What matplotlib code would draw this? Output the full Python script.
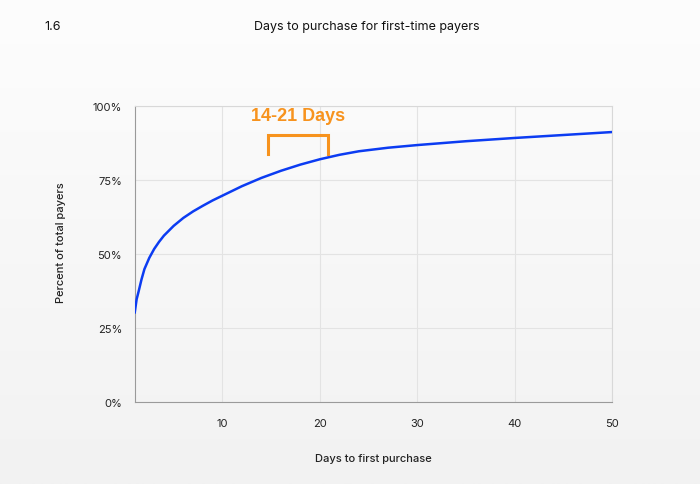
import numpy as np
import matplotlib
matplotlib.use('Agg')
import matplotlib.pyplot as plt

# values
days = [1, 1.2, 1.4, 1.7, 2, 2.5, 3, 3.5, 4, 5, 6, 7, 8, 9, 10, 12, 14, 16, 18, 20,
        22, 24, 27, 30, 35, 40, 45, 50]
pct_payers = [30.2, 34.8, 37.4, 41.5, 45.0, 48.8, 51.8, 54.2, 56.3, 59.6, 62.3, 64.5,
              66.4, 68.2, 69.8, 73.0, 75.8, 78.2, 80.3, 82.1, 83.6, 84.8, 86.0, 86.9,
              88.2, 89.3, 90.3, 91.3]
x_ticks = [10, 20, 30, 40, 50]
y_ticks = [0, 25, 50, 75, 100]
y_labels = ['0%', '25%', '50%', '75%', '100%']
bracket_days = [14.7, 20.8]

plt.rcParams['font.family'] = ['Inter', 'DejaVu Sans']

fig = plt.figure(figsize=(7, 4.85), dpi=100)

# soft vertical gradient behind everything
bg = fig.add_axes([0, 0, 1, 1], zorder=-10)
grad = np.linspace(0, 1, 256).reshape(-1, 1)
bg.imshow(grad, aspect='auto', cmap=matplotlib.colors.LinearSegmentedColormap.from_list(
    'bg', ['#fdfdfd', '#f2f2f2']), extent=[0, 1, 0, 1], origin='upper')
bg.axis('off')

ax = fig.add_axes([0.1924, 0.1685, 0.6823, 0.6103])
ax.patch.set_alpha(0)
ax.plot(days, pct_payers, color='#0C3CF2', lw=1.8, solid_capstyle='round', zorder=3)

ax.set_xlim(1, 50)
ax.set_ylim(0, 100)
ax.set_xticks(x_ticks)
ax.set_yticks(y_ticks)
ax.set_yticklabels(y_labels)
ax.tick_params(length=0, labelsize=8, colors='#222222')
ax.tick_params(axis='x', pad=11)
ax.tick_params(axis='y', pad=9)
ax.grid(True, color='#e3e3e3', lw=0.8)
for s in ['left', 'bottom']:
    ax.spines[s].set_color('#9a9a9a')
for s in ['top', 'right']:
    ax.spines[s].set_color('#d8d8d8')

# 14-21 day bracket
b0, b1 = bracket_days
ax.plot([b0, b0, b1, b1], [84, 90.2, 90.2, 84], color='#F7931E', lw=2.2,
        solid_joinstyle='miter', clip_on=False, zorder=4)
ax.text((b0 + b1) / 2, 97, '14-21 Days', color='#F7931E', fontsize=13,
        fontweight='bold', ha='center', va='center',
        family=['Liberation Sans', 'DejaVu Sans'])

fig.text(0.533, 0.053, 'Days to first purchase', ha='center', va='center',
         fontsize=8, fontweight='medium', color='#222222')
fig.text(0.087, 0.499, 'Percent of total payers', ha='center', va='center',
         rotation=90, fontsize=8, fontweight='medium', color='#222222')
fig.text(0.524, 0.944, 'Days to purchase for first-time payers', ha='center',
         va='center', fontsize=9, color='#111111')
fig.text(0.064, 0.944, '1.6', ha='left', va='center', fontsize=9, color='#111111')

fig.savefig('out.png', dpi=100)
